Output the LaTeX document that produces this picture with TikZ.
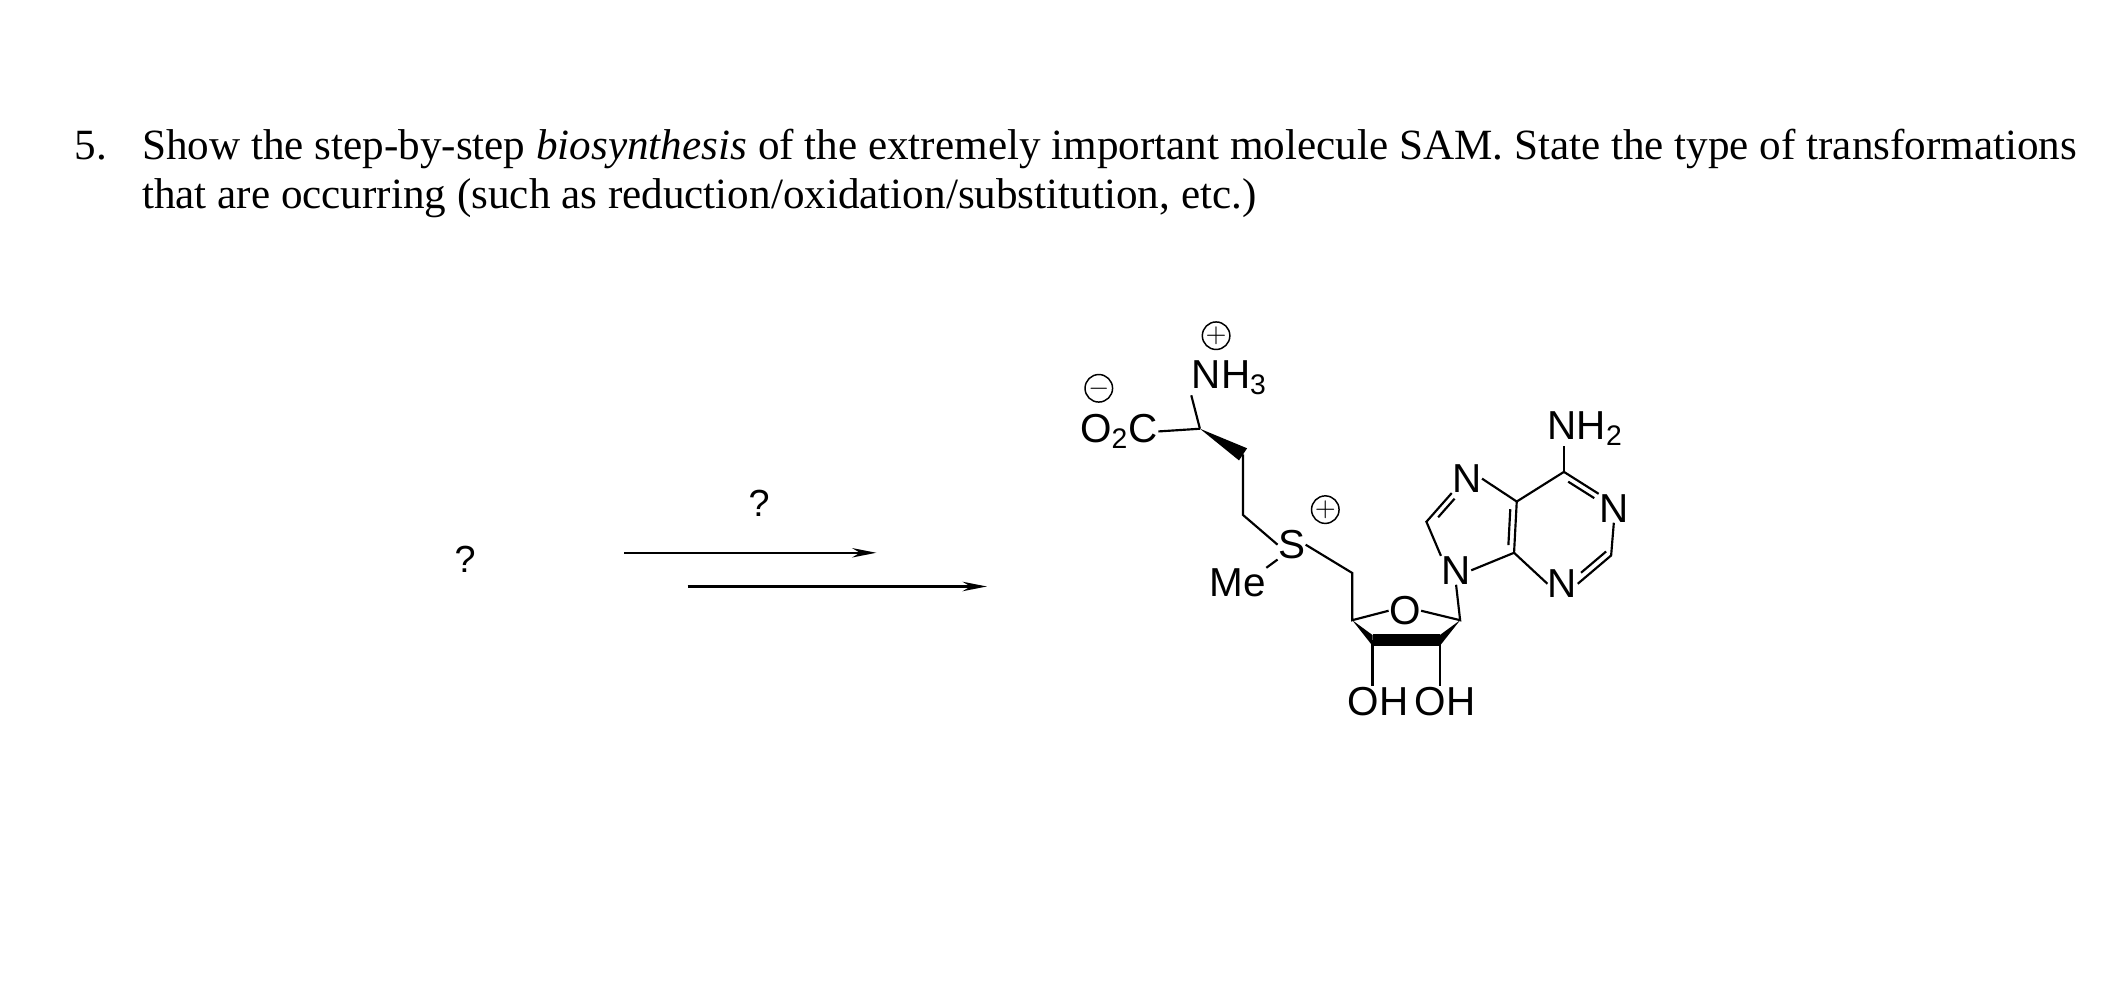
\documentclass[tikz,border=0pt]{standalone}
\usepackage{fontspec}
\setmainfont{Liberation Serif}
\newfontfamily\arial{Liberation Sans}
\usetikzlibrary{arrows.meta,calc}
\begin{document}
\begin{tikzpicture}[x=0.5pt,y=-0.5pt,
  atom/.style={font=\arial\fontsize{15}{16}\selectfont,inner sep=0pt},
  chg/.style={circle,draw,line width=0.55pt,inner sep=0pt,minimum size=9pt,font=\arial\fontsize{10}{10}\selectfont},
  bnd/.style={line width=0.8pt},
  rxn/.style={line width=0.8pt,-{Stealth[length=9pt,width=3.5pt]}},
  qtxt/.style={font=\arial\fontsize{14}{15}\selectfont,inner sep=0pt},
  ttl/.style={anchor=base west,inner sep=0pt,font=\fontsize{16}{19}\selectfont}]
\useasboundingbox (0,0) rectangle (1568,745);
% title
\node[ttl] (num) at (55,118) {5.};
\node[ttl] (l1) at (105,118) {Show the step-by-step \textit{biosynthesis} of the extremely important molecule SAM. State the type of transformations};
\node[ttl] (l2) at (105,155) {that are occurring (such as reduction/oxidation/substitution, etc.)};
% reaction
\node[qtxt] (q0) at (345,415) {?};
\node[qtxt] (q1) at (563,373) {?};
\coordinate (a1s) at (463,410); \coordinate (a1e) at (650,410);
\coordinate (a2s) at (510,435); \coordinate (a2e) at (732,435);
\draw[rxn] (a1s) -- (a1e);
\draw[rxn] (a2s) -- (a2e);
% molecule
\node[atom] (o2c) at (830,320) {O\textsubscript{2}C};
\node[chg] (minus) at (815,288) {$-$};
\node[atom] (nh3) at (912,280) {NH\textsubscript{3}};
\node[chg] (plusn) at (902,249) {$+$};
\coordinate (ca) at (890,318);
\coordinate (cb) at (922,337);
\coordinate (cc) at (922,382);
\node[atom] (s) at (958,404) {S};
\node[chg] (pluss) at (983,378) {$+$};
\node[atom] (me) at (918,432) {Me};
\coordinate (c5) at (1003,425);
\coordinate (c4) at (1003,460);
\node[atom] (o) at (1042,453) {O};
\coordinate (c1) at (1083,460);
\coordinate (c2) at (1068,475);
\coordinate (c3) at (1018,475);
\node[atom] (oh1) at (1022,520) {OH};
\node[atom] (oh2) at (1072,520) {OH};
\node[atom] (n9) at (1080,423) {N};
\coordinate (c8) at (1058,387);
\node[atom] (n7) at (1088,355) {N};
\coordinate (c5a) at (1125,372);
\coordinate (c4a) at (1123,410);
\coordinate (c6) at (1160,350);
\node[atom] (n1) at (1197,377) {N};
\coordinate (c2a) at (1195,412);
\node[atom] (n3) at (1159,433) {N};
\node[atom] (nh2) at (1176,318) {NH\textsubscript{2}};
\draw[bnd] (o2c.east) -- (ca);
\draw[bnd] (ca) -- (nh3.south west);
\fill (ca) -- ($(cb)+(-3,4.5)$) -- ($(cb)+(3,-4.5)$) -- cycle;
\draw[bnd] (cb) -- (cc) -- (s.west);
\draw[bnd] (s.south west) -- (me.north east);
\draw[bnd] (s.east) -- (c5) -- (c4) -- (o.west);
\draw[bnd] (o.east) -- (c1) -- (n9.south);
\fill (c4) -- ($(c3)+(0,-4)$) -- ($(c3)+(0,4)$) -- cycle;
\fill (c1) -- ($(c2)+(0,-4)$) -- ($(c2)+(0,4)$) -- cycle;
\draw[line width=4.5pt] (c3) -- (c2);
\draw[bnd] (c3) -- (c3 |- oh1.north);
\draw[bnd] (c2) -- (c2 |- oh2.north);
\draw[bnd] (n9.north west) -- (c8) -- (n7.south west);
\draw[bnd] ($(c8)!0.25!(n7.south west)+(4,2)$) -- ($(c8)!0.9!(n7.south west)+(4,2)$);
\draw[bnd] (n7.east) -- (c5a) -- (c4a) -- (n9.east);
\draw[bnd] ($(c5a)!0.15!(c4a)+(-4.5,0)$) -- ($(c5a)!0.85!(c4a)+(-4.5,0)$);
\draw[bnd] (c5a) -- (c6) -- (n1.north west);
\draw[bnd] ($(c6)!0.2!(n1.north west)+(-2,4)$) -- ($(c6)!0.95!(n1.north west)+(-2,4)$);
\draw[bnd] (n1.south) -- (c2a) -- (n3.east);
\draw[bnd] ($(c2a)!0.05!(n3.east)+(-2.5,-4)$) -- ($(c2a)!0.8!(n3.east)+(-2.5,-4)$);
\draw[bnd] (n3.west) -- (c4a);
\draw[bnd] (c6) -- (nh2.south -| c6);
\end{tikzpicture}
\end{document}
